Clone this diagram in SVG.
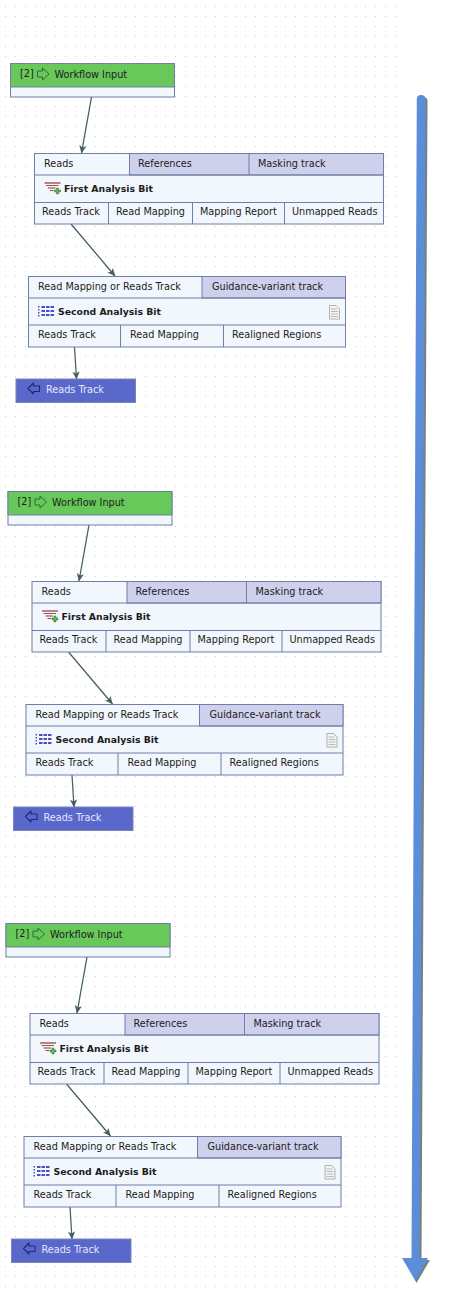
<svg xmlns="http://www.w3.org/2000/svg" width="468" height="1296" viewBox="0 0 468 1296">
<style>
text{font-family:"DejaVu Sans","Noto Sans",sans-serif;font-size:9.700px;fill:#1c1c1c}
text.b{font-weight:700;font-size:9.300px}
text.w{fill:#e4e8fa}
.box{fill:#f2f7fd;stroke:#6f7fa8;stroke-width:1}
.in{fill:#cfd0ec;stroke:#6f7fa8;stroke-width:1}
.ln{stroke:#6f7fa8;stroke-width:1;fill:none}
.green{fill:#68c85a;stroke:#6f7fa8;stroke-width:1}
.out{fill:#5a68cc;stroke:#7a84b8;stroke-width:1}
.c{stroke:#47605f;stroke-width:1.300;fill:none;marker-end:url(#ah)}
</style>
<defs>
<pattern id="dots" width="10" height="10" patternUnits="userSpaceOnUse"><rect x="5" y="6" width="1" height="1" fill="#cfd1cf"/></pattern>
<marker id="ah" viewBox="0 0 10 10" refX="9.500" refY="5" markerWidth="8" markerHeight="8" orient="auto" markerUnits="userSpaceOnUse"><path d="M0 .5L10 5L0 9.500L2.500 5Z" fill="#47605f"/></marker>
<g id="inicon"><path d="M.5 3H5.500V0L12 6L5.500 12V9H.5Z" fill="none" stroke="#2c6a34" stroke-width="1"/></g>
<g id="outicon"><path d="M12 3H6V0L.5 5.500L6 11V8.500H12Z" fill="none" stroke="#1f2a70" stroke-width="1.100" stroke-linejoin="round"/></g>
<g id="ficon"><path d="M0 -5H16" stroke="#8a3a3a" stroke-width="1.200"/><path d="M1.500 -2.500H14" stroke="#b04a4a" stroke-width="1"/><path d="M3.500 0H11" stroke="#7a3a3a" stroke-width="1"/><path d="M5.500 2.500H9" stroke="#a04040" stroke-width="1"/><path d="M10 2h2v-2h2v2h2v2h-2v2h-2v-2h-2z" fill="#62b84e" stroke="#2f6a30" stroke-width=".5"/></g>
<g id="sicon" fill="#4a50c0"><rect x="0" y="-5" width="1.500" height="1.500"/><rect x="0" y="-2" width="1.500" height="1.500"/><rect x="0" y="1" width="1.500" height="1.500"/><rect x="0" y="4" width="1.500" height="1.500"/><rect x="3.500" y="-5" width="3.500" height="2"/><rect x="8" y="-5" width="3.500" height="2"/><rect x="12.500" y="-5" width="3.500" height="2"/><rect x="3.500" y="-1" width="3.500" height="2"/><rect x="8" y="-1" width="3.500" height="2"/><rect x="12.500" y="-1" width="3.500" height="2"/><rect x="3.500" y="3" width="3.500" height="2"/><rect x="8" y="3" width="3.500" height="2"/><rect x="12.500" y="3" width="3.500" height="2"/></g>
<g id="doc"><path d="M.5 .5H7L10.500 4V14H.5Z" fill="#f4f4f4" stroke="#a0a0a0" stroke-width=".8"/><path d="M2 4H8M2 6.500H9M2 9H9M2 11.500H9" stroke="#aaa" stroke-width=".8"/></g>
</defs>
<rect width="468" height="1296" fill="#fff"/>
<rect width="400" height="1296" fill="url(#dots)"/>

<g id="connectors">
<path class="c" d="M91.500 97L81.500 153"/><path class="c" d="M71 224L115 276"/><path class="c" d="M74.500 347L76.500 379"/>
<path class="c" d="M89 525L79 581"/><path class="c" d="M68.500 652L112.500 704"/><path class="c" d="M72 775L74 807"/>
<path class="c" d="M87 957L77 1013"/><path class="c" d="M66.500 1084L110.500 1136"/><path class="c" d="M70 1207L72 1239"/>
</g>

<g id="input1"><rect class="box" x="10.500" y="63.500" width="164" height="33.500"/><rect class="green" x="10.500" y="63.500" width="164" height="23.500"/><text x="20" y="77">[2]</text><use href="#inicon" x="37" y="68"/><text x="54.500" y="77.500">Workflow Input</text></g>
<g id="first1"><rect class="box" x="34.500" y="153.500" width="349" height="70.500"/><rect class="in" x="129.500" y="153.500" width="254" height="21.500"/><path class="ln" d="M34.500 175H383.500M34.500 202.500H383.500M249 153.500V175M108.500 202.500V224M192.500 202.500V224M284.500 202.500V224"/><text x="44" y="167">Reads</text><text x="138" y="167">References</text><text x="258" y="167">Masking track</text><use href="#ficon" x="44.500" y="188"/><text class="b" x="64" y="192">First Analysis Bit</text><text x="42" y="215">Reads Track</text><text x="116" y="215">Read Mapping</text><text x="200" y="215">Mapping Report</text><text x="292" y="215">Unmapped Reads</text></g>
<g id="second1"><rect class="box" x="28.500" y="276.500" width="317" height="70.500"/><rect class="in" x="202" y="276.500" width="143.500" height="21.500"/><path class="ln" d="M28.500 298H345.500M28.500 325H345.500M120.500 325V347M223.500 325V347"/><text x="38" y="290">Read Mapping or Reads Track</text><text x="212" y="290">Guidance-variant track</text><use href="#sicon" x="38" y="311"/><text class="b" x="58" y="315">Second Analysis Bit</text><use href="#doc" x="329" y="305"/><text x="38" y="338">Reads Track</text><text x="130" y="338">Read Mapping</text><text x="232" y="338">Realigned Regions</text></g>
<g id="output1"><rect class="out" x="16" y="379" width="119.500" height="23.500"/><use href="#outicon" x="27.500" y="383"/><text class="w" x="46" y="393">Reads Track</text></g>

<g id="input2" transform="translate(-2.500 428)"><rect class="box" x="10.500" y="63.500" width="164" height="33.500"/><rect class="green" x="10.500" y="63.500" width="164" height="23.500"/><text x="20" y="77">[2]</text><use href="#inicon" x="37" y="68"/><text x="54.500" y="77.500">Workflow Input</text></g>
<g id="first2" transform="translate(-2.500 428)"><rect class="box" x="34.500" y="153.500" width="349" height="70.500"/><rect class="in" x="129.500" y="153.500" width="254" height="21.500"/><path class="ln" d="M34.500 175H383.500M34.500 202.500H383.500M249 153.500V175M108.500 202.500V224M192.500 202.500V224M284.500 202.500V224"/><text x="44" y="167">Reads</text><text x="138" y="167">References</text><text x="258" y="167">Masking track</text><use href="#ficon" x="44.500" y="188"/><text class="b" x="64" y="192">First Analysis Bit</text><text x="42" y="215">Reads Track</text><text x="116" y="215">Read Mapping</text><text x="200" y="215">Mapping Report</text><text x="292" y="215">Unmapped Reads</text></g>
<g id="second2" transform="translate(-2.500 428)"><rect class="box" x="28.500" y="276.500" width="317" height="70.500"/><rect class="in" x="202" y="276.500" width="143.500" height="21.500"/><path class="ln" d="M28.500 298H345.500M28.500 325H345.500M120.500 325V347M223.500 325V347"/><text x="38" y="290">Read Mapping or Reads Track</text><text x="212" y="290">Guidance-variant track</text><use href="#sicon" x="38" y="311"/><text class="b" x="58" y="315">Second Analysis Bit</text><use href="#doc" x="329" y="305"/><text x="38" y="338">Reads Track</text><text x="130" y="338">Read Mapping</text><text x="232" y="338">Realigned Regions</text></g>
<g id="output2" transform="translate(-2.500 428)"><rect class="out" x="16" y="379" width="119.500" height="23.500"/><use href="#outicon" x="27.500" y="383"/><text class="w" x="46" y="393">Reads Track</text></g>

<g id="input3" transform="translate(-4.500 860)"><rect class="box" x="10.500" y="63.500" width="164" height="33.500"/><rect class="green" x="10.500" y="63.500" width="164" height="23.500"/><text x="20" y="77">[2]</text><use href="#inicon" x="37" y="68"/><text x="54.500" y="77.500">Workflow Input</text></g>
<g id="first3" transform="translate(-4.500 860)"><rect class="box" x="34.500" y="153.500" width="349" height="70.500"/><rect class="in" x="129.500" y="153.500" width="254" height="21.500"/><path class="ln" d="M34.500 175H383.500M34.500 202.500H383.500M249 153.500V175M108.500 202.500V224M192.500 202.500V224M284.500 202.500V224"/><text x="44" y="167">Reads</text><text x="138" y="167">References</text><text x="258" y="167">Masking track</text><use href="#ficon" x="44.500" y="188"/><text class="b" x="64" y="192">First Analysis Bit</text><text x="42" y="215">Reads Track</text><text x="116" y="215">Read Mapping</text><text x="200" y="215">Mapping Report</text><text x="292" y="215">Unmapped Reads</text></g>
<g id="second3" transform="translate(-4.500 860)"><rect class="box" x="28.500" y="276.500" width="317" height="70.500"/><rect class="in" x="202" y="276.500" width="143.500" height="21.500"/><path class="ln" d="M28.500 298H345.500M28.500 325H345.500M120.500 325V347M223.500 325V347"/><text x="38" y="290">Read Mapping or Reads Track</text><text x="212" y="290">Guidance-variant track</text><use href="#sicon" x="38" y="311"/><text class="b" x="58" y="315">Second Analysis Bit</text><use href="#doc" x="329" y="305"/><text x="38" y="338">Reads Track</text><text x="130" y="338">Read Mapping</text><text x="232" y="338">Realigned Regions</text></g>
<g id="output3" transform="translate(-4.500 860)"><rect class="out" x="16" y="379" width="119.500" height="23.500"/><use href="#outicon" x="27.500" y="383"/><text class="w" x="46" y="393">Reads Track</text></g>

<g id="arrow">
<path d="M419 100Q419 96 423 97Q427.500 97 427.500 101L421.500 1260H430L416.500 1283L405 1260H419Z" fill="#5f6b68" opacity=".85"/>
<path d="M416.800 99Q417 95 421 95Q425.500 95 425.500 99L419.500 1258H428L415.500 1281L402 1258H411.500Z" fill="#5b8dd8"/>
</g>
</svg>
